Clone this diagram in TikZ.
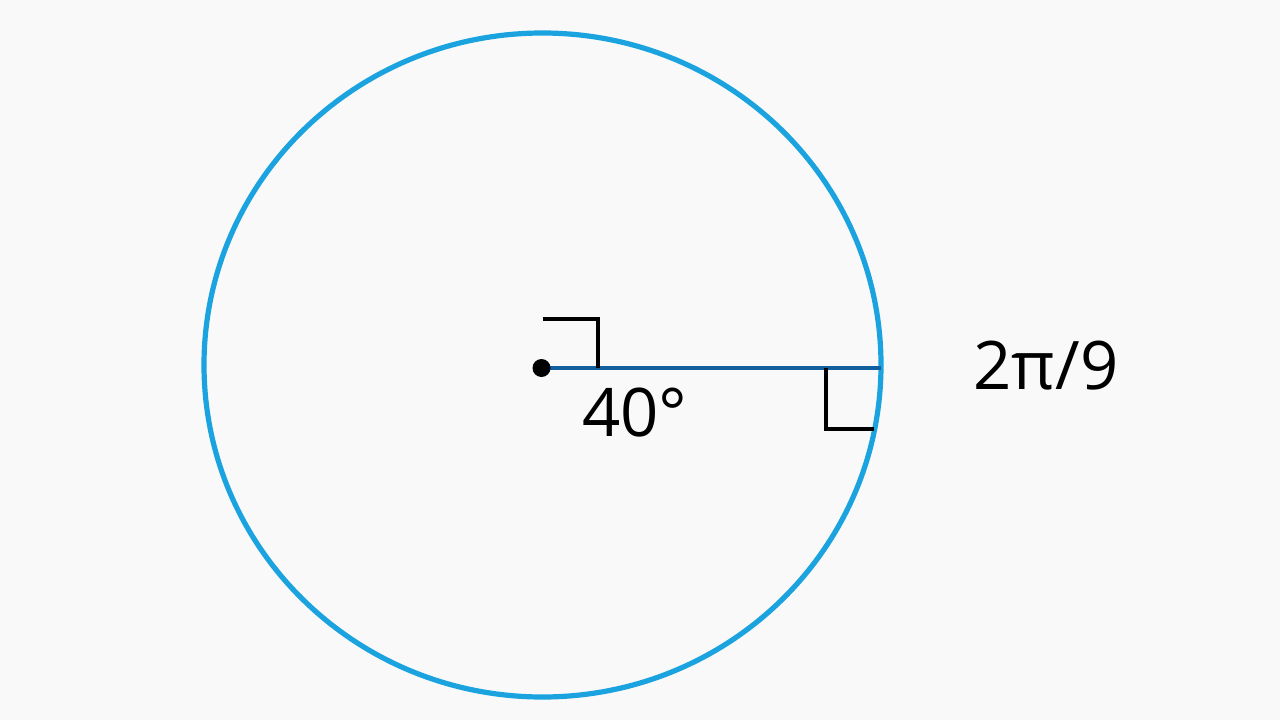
\documentclass[tikz,border=0pt]{standalone}
\usepackage{fontspec}
\setmainfont{Open Sans}
\definecolor{bg}{HTML}{F9F9F9}
\definecolor{circ}{HTML}{1BA3E0}
\definecolor{rad}{HTML}{10609F}
\begin{document}
\begin{tikzpicture}[x=1pt,y=-1pt,
  lbl/.style={font=\fontsize{67}{80}\selectfont, text=black, inner sep=0pt},
  rightmark/.style={draw=black, line width=3.6pt}]
\fill[bg] (0,0) rectangle (1280,720);
\useasboundingbox (0,0) rectangle (1280,720);
\coordinate (O) at (541.5,368);
\coordinate (E) at (881,368);
\draw[circ, line width=5.2pt] (542.5,365) ellipse [x radius=338.5, y radius=332];
\draw[rad, line width=4.6pt] (O) -- (E);
\draw[rightmark] (543,319) -- (598,319) -- (598,368);
\draw[rightmark] (826,368) -- (826,429) -- (874,429);
\fill[black] (O) circle (9);
\node[lbl] (a) at (635,413) {40°};
\node[lbl] (b) at (1046,366) {2π/9};
\end{tikzpicture}
\end{document}
